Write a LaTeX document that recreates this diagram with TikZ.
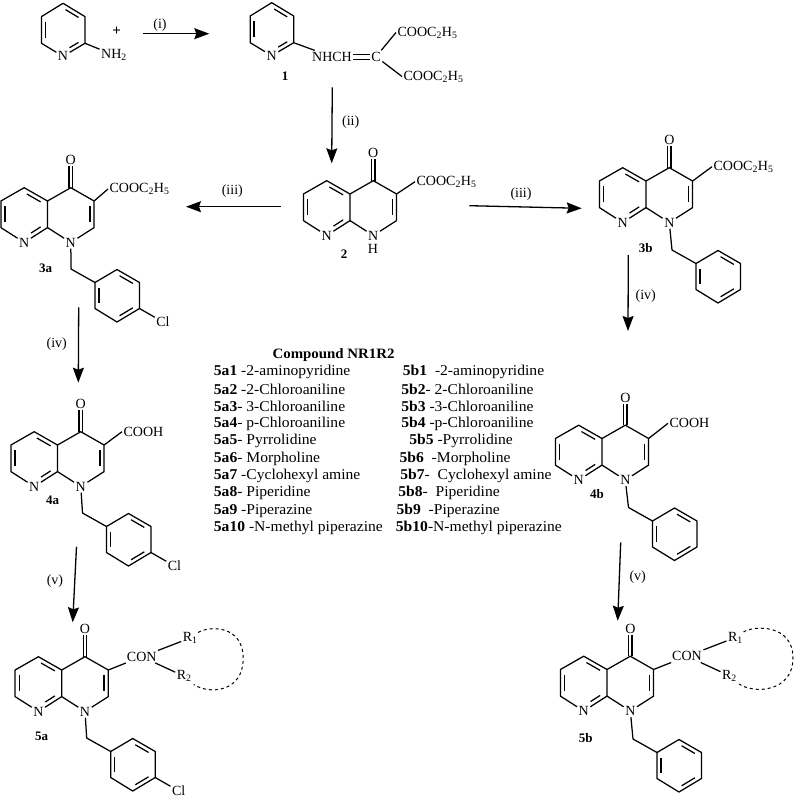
\documentclass[tikz,border=0pt]{standalone}
\usepackage{fontspec}
\setmainfont{Liberation Serif}
\newfontfamily\tabfont[FakeStretch=1.04]{Liberation Serif}
\usepackage{tikz}
\usetikzlibrary{calc,arrows.meta}
\newcommand{\est}{COOC\textsubscript{2}H\textsubscript{5}}
\newcommand{\dbl}[3]{\draw ($(#1)!.14!(#2)!.18!(#3)$) -- ($(#2)!.14!(#1)!.18!(#3)$);}
\newcommand{\dbln}[3]{\draw ($(#1)!.36!(#2)!.18!(#3)$) -- ($(#2)!.14!(#1)!.18!(#3)$);}
\tikzstyle{atm}=[inner sep=1pt, font=\fontsize{14}{16}\selectfont]
\tikzstyle{cmp}=[inner sep=0pt, font=\fontsize{13}{14}\selectfont\bfseries]
\tikzstyle{rea}=[inner sep=0pt, font=\fontsize{14}{16}\selectfont]
\tikzstyle{row}=[inner sep=0pt, anchor=west, font=\tabfont\fontsize{15}{16}\selectfont]
\tikzstyle{rxn}=[line width=1.3pt, -{Stealth[length=15pt, width=11pt, inset=2pt]}]
% pyridine, top atom at #2,#3
\newcommand{\pyr}[3]{
  \begin{scope}[shift={(#2,#3)}]
    \coordinate (#1p1) at (0,0);
    \coordinate (#1p2) at (22,13.3);
    \coordinate (#1p3) at (22,40);
    \node[atm] (#1n) at (0,53) {N};
    \coordinate (#1p5) at (-21.5,40);
    \coordinate (#1p6) at (-21.5,13.3);
    \coordinate (#1c) at (0,26.7);
    \draw (#1p1) -- (#1p2) -- (#1p3) -- (#1n) -- (#1p5) -- (#1p6) -- (#1p1);
    \dbl{#1p1}{#1p2}{#1c}
    \dbl{#1p5}{#1p6}{#1c}
    \dbln{#1n}{#1p3}{#1c}
  \end{scope}
}
% naphthyridinone, upper fusion atom at #2,#3
\newcommand{\naph}[3]{
  \begin{scope}[shift={(#2,#3)}]
    \coordinate (#1a1) at (-23.3,-13.3);
    \coordinate (#1a2) at (-46.6,0);
    \coordinate (#1a3) at (-46.6,26.6);
    \node[atm] (#1n8) at (-23.3,41.5) {N};
    \coordinate (#1b) at (0,26.6);
    \coordinate (#1t) at (0,0);
    \coordinate (#1c4) at (23.3,-13.3);
    \coordinate (#1c3) at (46.6,0);
    \coordinate (#1c2) at (46.6,26.6);
    \node[atm] (#1n1) at (23.3,41.5) {N};
    \node[atm] (#1o) at (23.3,-41) {O};
    \coordinate (#1cl) at (-23.3,13.3);
    \coordinate (#1cr) at (23.3,13.3);
    \draw (#1t) -- (#1a1) -- (#1a2) -- (#1a3) -- (#1n8) -- (#1b) -- (#1t);
    \draw (#1t) -- (#1c4) -- (#1c3) -- (#1c2) -- (#1n1) -- (#1b);
    \dbl{#1a1}{#1t}{#1cl}
    \dbl{#1a2}{#1a3}{#1cl}
    \dbln{#1n8}{#1b}{#1cl}
    \dbl{#1c3}{#1c2}{#1cr}
    \draw ([xshift=-1.8pt]#1c4) -- ([xshift=-1.8pt]#1o.south);
    \draw ([xshift=1.8pt]#1c4) -- ([xshift=1.8pt]#1o.south);
  \end{scope}
}
% benzyl on n1, same origin as \naph
\newcommand{\bzl}[3]{
  \begin{scope}[shift={(#2,#3)}]
    \coordinate (#1ch) at (25,68);
    \coordinate (#1r1) at (49,81.5);
    \coordinate (#1r2) at (71,68.5);
    \coordinate (#1r3) at (93.5,81.5);
    \coordinate (#1r4) at (93.5,107.5);
    \coordinate (#1r5) at (71,121);
    \coordinate (#1r6) at (49,107.5);
    \coordinate (#1rc) at (71,95);
    \draw (#1n1) -- (#1ch) -- (#1r1);
    \draw (#1r1) -- (#1r2) -- (#1r3) -- (#1r4) -- (#1r5) -- (#1r6) -- cycle;
    \dbl{#1r1}{#1r6}{#1rc}
    \dbl{#1r2}{#1r3}{#1rc}
    \dbl{#1r4}{#1r5}{#1rc}
  \end{scope}
}
\newcommand{\chl}[3]{
  \node[atm] (#1cl4) at (#2+117,#3+121) {Cl};
  \draw (#1r4) -- (#1cl4);
}
% amide with dashed loop, same origin as \naph, #4 = right side of the loop
\newcommand{\amd}[4]{
  \begin{scope}[shift={(#2,#3)}]
    \node[atm] (#1con) at (80,-13.3) {CON};
    \node[atm] (#1r1t) at (128.5,-32) {R\textsubscript{1}};
    \node[atm] (#1r2t) at (122.5,6.3) {R\textsubscript{2}};
    \coordinate (#1ls) at (136.5,-37.5);
    \coordinate (#1lr) at (#4,-11.5);
    \coordinate (#1le) at (132,14.5);
    \draw (#1c3) -- (#1con);
    \draw (#1con) -- (#1r1t);
    \draw (#1con) -- (#1r2t);
    \draw[dashed, line width=1pt, dash pattern=on 3pt off 3pt] (#1ls) .. controls (146,-44) and (#4,-46) .. (#1lr)
      .. controls (#4,22) and (148,25) .. (#1le);
  \end{scope}
}
\begin{document}
\begin{tikzpicture}[x=1pt, y=-1pt, line width=1.25pt, line join=round]
  \useasboundingbox (0,0) rectangle (796,798);

  \pyr{am}{63}{3.3}
  \node[atm] (amnh) at (114,55) {NH\textsubscript{2}};
  \draw (amp3) -- (amnh);
  \node[inner sep=0pt, font=\fontsize{15}{16}\selectfont\bfseries] (plus) at (116.7,31) {+};

  \pyr{co}{271.7}{2.7}
  \node[atm] (nhch) at (332,56.7) {NHCH};
  \node[atm] (cc) at (376,56.7) {C};
  \node[atm, anchor=west] (esta) at (396,32.5) {\est};
  \node[atm, anchor=west] (estb) at (402,76.5) {\est};
  \draw (cop3) -- (nhch);
  \draw ([yshift=2.5pt]nhch.east) -- ([yshift=2.5pt]cc.west);
  \draw ([yshift=-2.5pt]nhch.east) -- ([yshift=-2.5pt]cc.west);
  \draw (cc) -- (esta.west);
  \draw (cc) -- (estb.west);
  \node[cmp] (lab1) at (285,76.7) {1};

  \naph{tw}{350}{194}
  \node[atm, anchor=west] (twest) at (415,181.7) {\est};
  \node[atm, anchor=north, inner sep=0pt] (twh) at (373,243.5) {H};
  \draw (twc3) -- (twest.west);
  \node[cmp] (lab2) at (344,254) {2};

  \naph{ta}{47.5}{201}
  \node[atm, anchor=west] (taest) at (108,189) {\est};
  \draw (tac3) -- (taest.west);
  \bzl{ta}{46}{201}
  \chl{ta}{46}{201}
  \node[cmp] (lab3a) at (45.7,268) {3a};

  \naph{tb}{646}{181}
  \node[atm, anchor=west] (tbest) at (712,166.7) {\est};
  \draw (tbc3) -- (tbest.west);
  \bzl{tb}{647}{182}
  \node[cmp] (lab3b) at (645.7,248) {3b};

  \naph{fa}{57.5}{445}
  \node[atm, anchor=west] (facooh) at (122,431.7) {COOH};
  \draw (fac3) -- (facooh.west);
  \bzl{fa}{57.5}{445}
  \chl{fa}{57.5}{445}
  \node[cmp] (lab4a) at (52.7,500.7) {4a};

  \naph{fb}{602}{438.5}
  \node[atm, anchor=west] (fbcooh) at (668,423.3) {COOH};
  \draw (fbc3) -- (fbcooh.west);
  \bzl{fb}{603.5}{439.5}
  \node[cmp] (lab4b) at (597,494.3) {4b};

  \naph{va}{61.7}{670}
  \amd{va}{61.7}{670}{181.5}
  \bzl{va}{61.7}{670}
  \chl{va}{61.7}{670}
  \node[cmp] (lab5a) at (41.7,736.7) {5a};

  \naph{vb}{607}{669.5}
  \amd{vb}{607}{669.5}{186}
  \bzl{vb}{608}{671}
  \node[cmp] (lab5b) at (585.7,737.7) {5b};

  % reaction arrows
  \coordinate (s1) at (142.7,33.7);  \coordinate (e1) at (209.3,33.7);
  \coordinate (s2) at (332.3,87.3);  \coordinate (e2) at (331.7,163.3);
  \coordinate (s3) at (280.7,206.7); \coordinate (e3) at (186,206.7);
  \coordinate (s4) at (469.3,205.7); \coordinate (e4) at (581.7,208.3);
  \coordinate (s5) at (78.7,307.3);  \coordinate (e5) at (78.3,382.7);
  \coordinate (s6) at (628.3,255);   \coordinate (e6) at (628,331);
  \coordinate (s7) at (76.5,546.7);  \coordinate (e7) at (72.7,622.3);
  \coordinate (s8) at (620.7,542.3); \coordinate (e8) at (617.7,620.7);
  \foreach \n in {1,...,8}
    \draw[rxn] (s\n) -- (e\n);
  \node[rea] (ti) at (160,25) {(i)};
  \node[rea] (tii) at (350.7,122) {(ii)};
  \node[rea] (tiiia) at (232.3,190.7) {(iii)};
  \node[rea] (tiiib) at (521,194) {(iii)};
  \node[rea] (tiva) at (56.7,344.3) {(iv)};
  \node[rea] (tivb) at (645.7,295.7) {(iv)};
  \node[rea] (tva) at (55,580.7) {(v)};
  \node[rea] (tvb) at (637.7,576.7) {(v)};

  % table
  \node[row, font=\tabfont\fontsize{14.3}{16}\selectfont\bfseries] (head) at (272,354.7) {Compound NR1R2};
  \foreach \rowy/\rowt [count=\rown] in {
    372.3/\textbf{5a1} -2-aminopyridine,
    389.3/\textbf{5a2} -2-Chloroaniline,
    406.7/\textbf{5a3}- 3-Chloroaniline,
    424/\textbf{5a4}- p-Chloroaniline,
    441.3/\textbf{5a5}- Pyrrolidine,
    458.7/\textbf{5a6}- Morpholine,
    476/\textbf{5a7} -Cyclohexyl amine,
    493.3/\textbf{5a8}- Piperidine,
    510.7/\textbf{5a9} -Piperazine,
    528.3/\textbf{5a10} -N-methyl piperazine}
    \node[row] (a\rown) at (213.3,\rowy) {\rowt};
  \foreach \rowx/\rowy/\rowt [count=\rown] in {
    402.3/372.3/\textbf{5b1}\ \ -2-aminopyridine,
    400.7/389.3/\textbf{5b2}- 2-Chloroaniline,
    400.7/406.7/\textbf{5b3} -3-Chloroaniline,
    400.7/424/\textbf{5b4} -p-Chloroaniline,
    408.7/441.3/\textbf{5b5} -Pyrrolidine,
    399/458.7/\textbf{5b6}\ \ -Morpholine,
    399.7/476/\textbf{5b7}-\ \ Cyclohexyl amine,
    397.7/493.3/\textbf{5b8}-\ \ Piperidine,
    396/510.7/\textbf{5b9}\ \ -Piperazine,
    395.3/528.3/\textbf{5b10}-N-methyl piperazine}
    \node[row] (b\rown) at (\rowx,\rowy) {\rowt};
\end{tikzpicture}
\end{document}
